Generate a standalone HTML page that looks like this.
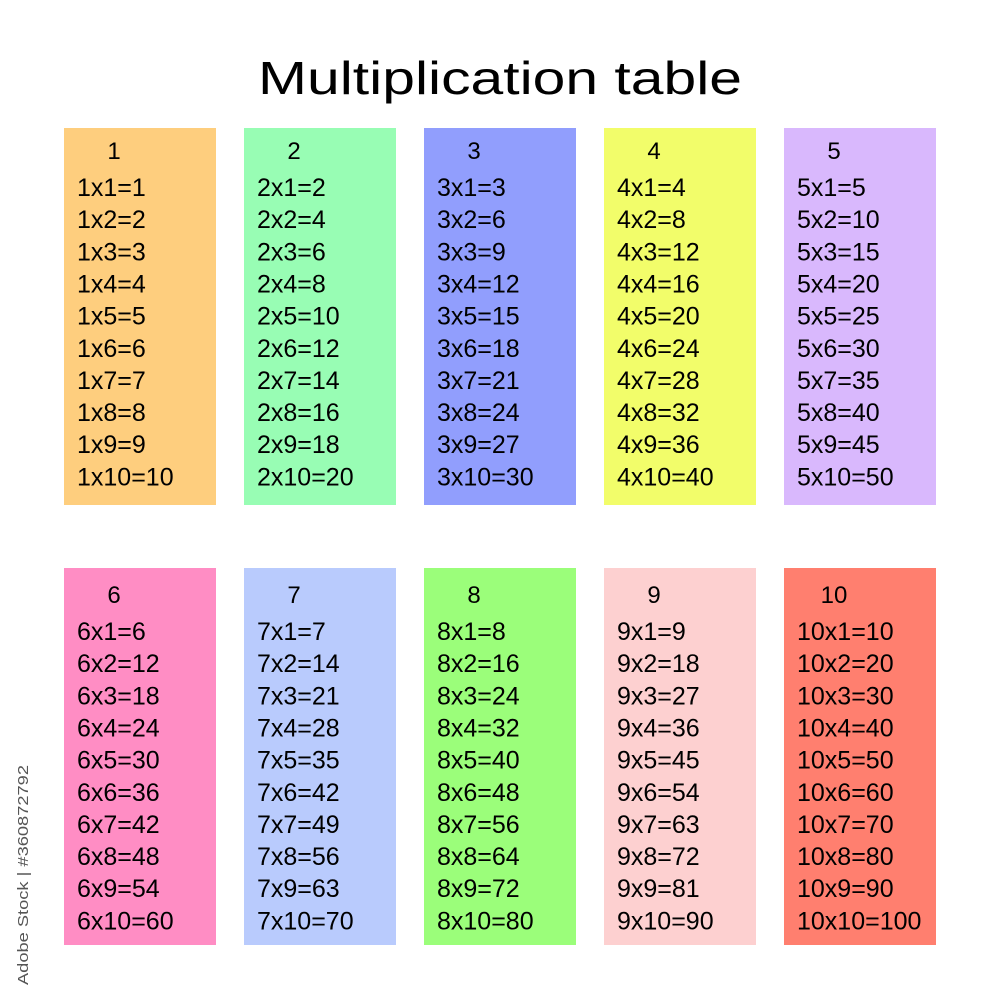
<!DOCTYPE html>
<html><head><meta charset="utf-8"><style>
html,body{margin:0;padding:0;background:#fff;}
svg{display:block;}
</style></head><body>
<svg id="chart" width="1000" height="1000" viewBox="0 0 1000 1000" xmlns="http://www.w3.org/2000/svg">
<rect width="1000" height="1000" fill="#fff"/>
<text x="500" y="94" text-anchor="middle" font-family="Liberation Sans, sans-serif" font-size="46" textLength="484" lengthAdjust="spacingAndGlyphs" fill="#000">Multiplication table</text>
<text transform="translate(28,985) rotate(-90)" font-family="Liberation Sans, sans-serif" font-size="15" fill="#555" textLength="220" lengthAdjust="spacingAndGlyphs">Adobe Stock | #360872792</text>
<g id="boxes"></g>
</svg>
<script>
const tables = [1,2,3,4,5,6,7,8,9,10];
const multipliers = [1,2,3,4,5,6,7,8,9,10];
const colors = ["#FECE7E","#98FDB4","#919EFD","#F2FD6A","#D9B8FD","#FF8DC4","#B9CBFD","#9BFE7A","#FDD0D0","#FF7F6F"];
const NS = "http://www.w3.org/2000/svg";
const g = document.getElementById('boxes');
const colX = i => 64 + i*180;
const rowY = r => 128 + r*440;
tables.forEach((t, idx) => {
  const c = idx % 5, r = Math.floor(idx/5);
  const x = colX(c), y = rowY(r);
  const off = r === 0 ? 0 : 4;
  const grp = document.createElementNS(NS,'g');
  
  
  const rect = document.createElementNS(NS,'rect');
  rect.setAttribute('x', x); rect.setAttribute('y', y);
  rect.setAttribute('width', 152); rect.setAttribute('height', 377);
  rect.setAttribute('fill', colors[idx]);
  
  
  grp.appendChild(rect);
  const h = document.createElementNS(NS,'text');
  h.setAttribute('x', x + 50); h.setAttribute('y', y + 31 + off);
  h.setAttribute('text-anchor','middle');
  h.setAttribute('font-family','Liberation Sans, sans-serif');
  h.setAttribute('font-size','24');
  h.textContent = t;
  
  
  grp.appendChild(h);
  multipliers.forEach((m, k) => {
    const tx = document.createElementNS(NS,'text');
    tx.setAttribute('x', x + 13);
    tx.setAttribute('y', y + 68 + off + k*32.15);
    tx.setAttribute('font-family','Liberation Sans, sans-serif');
    tx.setAttribute('font-size','25');
    tx.textContent = t + 'x' + m + '=' + (t*m);
    
    
    grp.appendChild(tx);
  });
  g.appendChild(grp);
});
</script>
</body></html>
